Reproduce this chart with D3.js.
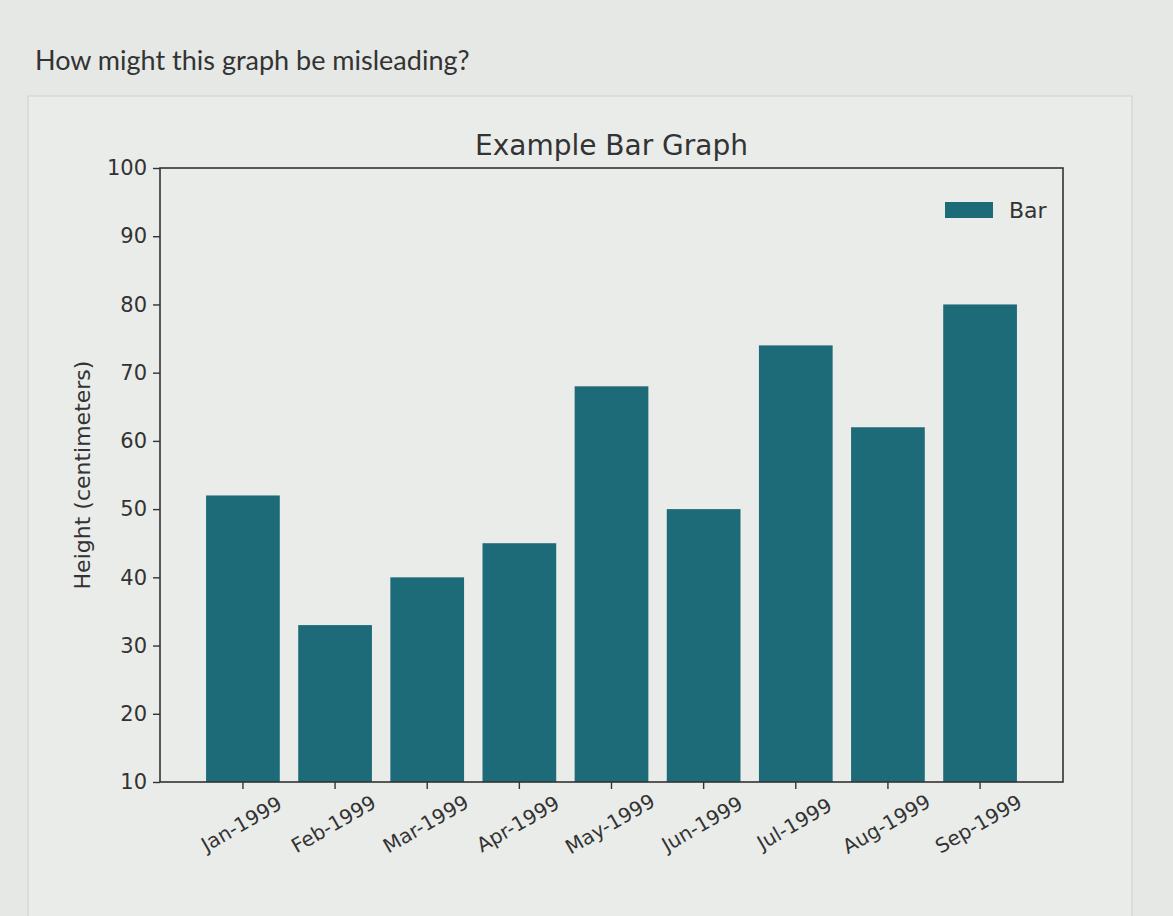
<!DOCTYPE html>
<html>
<head>
<meta charset="utf-8">
<script src="https://cdn.jsdelivr.net/npm/d3@7"></script>
<style>
  body { margin: 0; background: #e6e8e6; }
  svg { display: block; }
</style>
</head>
<body>
<svg width="1173" height="916"></svg>
<script>
// Datos del gráfico
var months = ["Jan-1999", "Feb-1999", "Mar-1999", "Apr-1999", "May-1999",
              "Jun-1999", "Jul-1999", "Aug-1999", "Sep-1999"];
var heights = [52, 33, 40, 45, 68, 50, 74, 62, 80];
var yTicks = [10, 20, 30, 40, 50, 60, 70, 80, 90, 100];

var svg = d3.select("svg");
var W = 1173, H = 916;

// Fondo de la página
svg.append("rect").attr("width", W).attr("height", H).attr("fill", "#e6e8e6");
svg.append("rect")
  .attr("x", 28).attr("y", 96).attr("width", 1104).attr("height", 840)
  .attr("fill", "#eaecea").attr("stroke", "#d2d4d2").attr("stroke-width", 1.2);

// Pregunta
svg.append("text")
  .attr("x", 35).attr("y", 70)
  .style("font-family", "Lato, 'Open Sans', sans-serif")
  .style("font-size", "27px")
  .attr("fill", "#333")
  .text("How might this graph be misleading?");

// Márgenes del área de trazado
var margin = { top: 168, right: 110, bottom: 134, left: 160 },
    width = W - margin.left - margin.right,
    height = H - margin.top - margin.bottom;

var g = svg.append("g")
  .attr("transform", "translate(" + margin.left + "," + margin.top + ")");

// Escalas
var x = d3.scaleBand().domain(months).range([0, width])
  .paddingInner(0.2).paddingOuter(0.5);
var y = d3.scaleLinear().domain([10, 100]).range([height, 0]);

var font = "'DejaVu Sans', sans-serif";

// Barras
g.selectAll(".bar")
  .data(months)
  .enter()
  .append("rect")
  .attr("class", "bar")
  .attr("x", function (d) { return x(d); })
  .attr("y", function (d, i) { return y(heights[i]); })
  .attr("width", x.bandwidth())
  .attr("height", function (d, i) { return y(10) - y(heights[i]); })
  .attr("fill", "#1d6b78");

// Eje Y
var yAxis = g.append("g")
  .call(d3.axisLeft(y).tickValues(yTicks).tickSize(7).tickPadding(6));
yAxis.select(".domain").remove();
yAxis.selectAll("line").attr("stroke", "#333").attr("stroke-width", 1.4);
yAxis.selectAll("text")
  .style("font-family", font).style("font-size", "21px").attr("fill", "#333");

// Eje X
var xAxis = g.append("g")
  .attr("transform", "translate(0," + height + ")")
  .call(d3.axisBottom(x).tickSize(7).tickPadding(0));
xAxis.select(".domain").remove();
xAxis.selectAll("line").attr("stroke", "#333").attr("stroke-width", 1.4);
xAxis.selectAll("text")
  .style("font-family", font).style("font-size", "20px").attr("fill", "#333")
  .attr("dy", null)
  .attr("y", 0)
  .attr("text-anchor", "middle")
  .attr("transform", "translate(2,48) rotate(-30)");

// Marco
g.append("rect")
  .attr("width", width).attr("height", height)
  .attr("fill", "none").attr("stroke", "#333").attr("stroke-width", 1.6);

// Título
g.append("text")
  .attr("x", width / 2).attr("y", -13)
  .attr("text-anchor", "middle")
  .style("font-family", font).style("font-size", "28px").attr("fill", "#333")
  .text("Example Bar Graph");

// Etiqueta eje Y
svg.append("text")
  .attr("transform", "translate(90," + (margin.top + height / 2) + ") rotate(-90)")
  .attr("text-anchor", "middle")
  .style("font-family", font).style("font-size", "22px").attr("fill", "#333")
  .text("Height (centimeters)");

// Leyenda
var legend = g.append("g").attr("transform", "translate(" + (width - 118) + ",34)");
legend.append("rect")
  .attr("x", 0).attr("y", 0).attr("width", 48).attr("height", 16)
  .attr("fill", "#1d6b78");
legend.append("text")
  .attr("x", 64).attr("y", 16)
  .style("font-family", font).style("font-size", "22px").attr("fill", "#333")
  .text("Bar");
</script>
</body>
</html>
